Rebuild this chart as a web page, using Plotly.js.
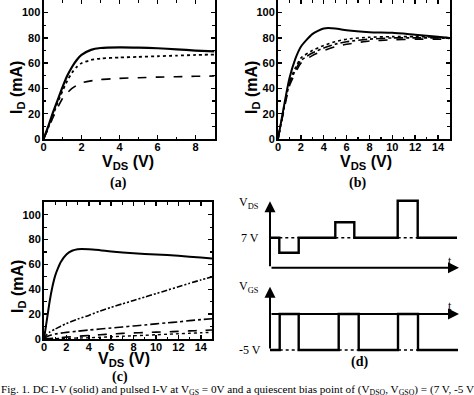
<!DOCTYPE html>
<html>
<head>
<meta charset="utf-8">
<script src="https://cdn.plot.ly/plotly-3.0.1.min.js"></script>
<style>html,body{margin:0;padding:0;overflow:hidden;background:#fff}#chart{width:474px;height:395px}</style>
</head>
<body>
<div id="chart"></div>
<script>
// ---------- Data: panel (a) ----------
const vA = [0,0.25,0.5,0.75,1,1.25,1.5,1.75,2,2.5,3,4,5,6,7,8,9];
const aDC = [0,10,21,31,41,50,57,62.5,66.5,70.5,72,72.5,72.3,71.8,71,70,69.3];
const aPulse1 = [0,9,19,29,38,46,52.5,57,60,62.5,63.7,64.5,65,65.5,66,66.5,66.8];
const aPulse2 = [0,8,17,25,32,36.5,40,42.5,44.5,46,47,48,48.5,49,49.3,49.6,49.8];
// ---------- Data: panel (b) ----------
const vB = [0,0.5,1,1.5,2,3,4,5,6,8,10,12,14,15];
const bDC = [0,25,48,63,73,83,87.5,87.5,86,84.5,84,82.5,81,80];
const bPulse1 = [0,24,45,56,64,70,74,77,79,80.5,81,81,80.5,80];
const bPulse2 = [0,23,44,54,62,68,72,75,77,79,80,80,80,79.5];
const bPulse3 = [0,22,42,52,60,66,70,73,75,77.5,78.5,79,79,79];
// ---------- Data: panel (c) ----------
const vC = [0,0.25,0.5,0.75,1,1.25,1.5,2,2.5,3,4,5,6,8,10,12,14,15];
const cDC = [0,15,30,42,51,57,62,68,71,72.3,72.3,71.5,70.5,69,68,67,65.5,64.8];
const vC2 = [0,0.2,0.5,1,1.5,2,3,4,5,6,7,8,9,10,11,12,13,14,15];
const cPulse1 = [0,3,5.5,8,10.3,12.5,16,19,22.5,25.5,28.3,31,33.8,36.5,39.3,42,44.8,47.5,50];
const cPulse2 = [0,1.5,2.8,4,4.7,5.3,6.3,7.2,8,8.8,9.7,10.5,11.3,12.2,13,13.8,14.8,15.6,16.3];
const cPulse3 = [0,0.2,0.4,0.8,1.2,1.5,2.2,2.8,3.4,4,4.5,4.9,5.2,5.5,5.8,6.1,6.5,6.9,7.3];
const cPulse4 = [0,0.1,0.2,0.3,0.4,0.5,0.8,1,1.4,1.8,2.2,2.6,3,3.4,3.8,4.2,4.6,5,5.4];
// ---------- Data: panel (d) pulse timing (arbitrary time units) ----------
const tDS = [0,9.3,9.3,28.7,28.7,65.3,65.3,84.3,84.3,127.7,127.7,147.7,147.7,187];
const vDS = [7,7,3.5,3.5,7,7,10.6,10.6,7,7,15.6,15.6,7,7];
const tDSq = [9.3,28.7,null,65.3,84.3,null,127.7,147.7];
const vDSq = [7,7,null,7,7,null,7,7];
const tGS = [0,9.7,9.7,28.7,28.7,68.7,68.7,88.7,88.7,128,128,148,148,188];
const vGS = [-5,-5,0,0,-5,-5,0,0,-5,-5,0,0,-5,-5];
const tGSq = [9.7,28.7,null,68.7,88.7,null,128,148];
const vGSq = [-5,-5,null,-5,-5,null,-5,-5];
const xTicksA = [0,2,4,6,8];
const xTicksBC = [0,2,4,6,8,10,12,14];
const yTicks = [0,20,40,60,80,100];

const W = 474, H = 395;
const px = p => p / W;
const py = p => 1 - p / H;

const SANS = 'Liberation Sans, Arial, sans-serif';
const SERIF = 'Liberation Serif, Times New Roman, serif';
const k = '#000';

function ln(x, y, xa, ya, dash, w) {
  return {x, y, xaxis: xa, yaxis: ya, mode: 'lines', type: 'scatter',
    line: {color: k, width: w || 1.6, dash: dash || 'solid', shape: 'spline', smoothing: 0.6},
    hoverinfo: 'skip', showlegend: false};
}
function step(x, y, xa, ya, dash, w) {
  return {x, y, xaxis: xa, yaxis: ya, mode: 'lines', type: 'scatter',
    line: {color: k, width: w || 2, dash: dash || 'solid'},
    hoverinfo: 'skip', showlegend: false, connectgaps: false};
}
const DDD = '6px,2px,2px,2px,2px,2px';

const traces = [
  ln(vA, aDC, 'x', 'y', 'solid', 2.2),
  ln(vA, aPulse1, 'x', 'y', 'dot', 1.8),
  ln(vA, aPulse2, 'x', 'y', 'dash', 1.6),
  ln(vB, bDC, 'x2', 'y2', 'solid', 2),
  ln(vB, bPulse1, 'x2', 'y2', 'dot', 1.6),
  ln(vB, bPulse2, 'x2', 'y2', 'dashdot', 1.6),
  ln(vB, bPulse3, 'x2', 'y2', 'dash', 1.6),
  ln(vC, cDC, 'x3', 'y3', 'solid', 2),
  ln(vC2, cPulse1, 'x3', 'y3', DDD, 1.6),
  ln(vC2, cPulse2, 'x3', 'y3', 'dashdot', 1.6),
  ln(vC2, cPulse3, 'x3', 'y3', 'dash', 1.6),
  ln(vC2, cPulse4, 'x3', 'y3', 'dot', 1.4),
  step(tDS, vDS, 'x4', 'y4', 'solid', 2.4),
  step(tDSq, vDSq, 'x4', 'y4', 'dot', 1.6),
  step(tGS, vGS, 'x5', 'y5', 'solid', 2.4),
  step(tGSq, vGSq, 'x5', 'y5', 'dot', 1.6)
];

function axis(dom, range, tickvals, minorDt, anchor, standoff) {
  return {domain: dom, range, anchor, tickmode: 'array', tickvals,
    showline: true, linecolor: k, linewidth: 2, mirror: 'ticks',
    ticks: 'inside', ticklen: 4, tickwidth: 1.5, tickcolor: k,
    ticklabelstandoff: standoff,
    minor: {dtick: minorDt, ticks: 'inside', ticklen: 2.5, tickwidth: 1.2, tickcolor: k, showgrid: false},
    showgrid: false, zeroline: false, fixedrange: true,
    tickfont: {family: SANS, size: 11, color: k, weight: 'bold'}};
}
const hidden = (dom, range, anchor) => ({domain: dom, range, anchor, visible: false, fixedrange: true});

const dA_x = [px(43.5), px(214.5)], dA_y = [py(139), 1];
const dB_x = [px(278), px(449.5)];
const dC_x = [px(44), px(212)], dC_y = [py(339), py(202.3)];
const dD_x = [px(270), px(460)];
const dD1_y = [py(267.7), py(199.1)];
const dD2_y = [py(353.6), py(285.2)];

const ann = [];
function txt(text, x, y, opt) {
  ann.push(Object.assign({text, x: px(x), y: py(y), xref: 'paper', yref: 'paper',
    showarrow: false, xanchor: 'center', yanchor: 'middle',
    font: {family: SANS, size: 16, color: k}}, opt || {}));
}
// axis titles
txt('<b>V<sub>DS</sub> (V)</b>', 128, 162);
txt('<b>V<sub>DS</sub> (V)</b>', 366, 162);
txt('<b>V<sub>DS</sub> (V)</b>', 124, 359);
txt('<b>I<sub>D</sub> (mA)</b>', 18, 88, {textangle: -90});
txt('<b>I<sub>D</sub> (mA)</b>', 252, 87, {textangle: -90});
txt('<b>I<sub>D</sub> (mA)</b>', 18, 287, {textangle: -90});
// panel labels
const pl = {font: {family: SERIF, size: 14, color: k}};
txt('<b>(a)</b>', 118, 183, pl);
txt('<b>(b)</b>', 357, 183, pl);
txt('<b>(c)</b>', 120, 377, pl);
txt('<b>(d)</b>', 359, 362, pl);
// panel (d) labels
const sl = {font: {family: SERIF, size: 12, color: k}};
txt('V<sub>DS</sub>', 249, 203, sl);
txt('7 V', 250, 238, sl);
txt('t', 450, 261, sl);
txt('V<sub>GS</sub>', 249, 287, sl);
txt('t', 450, 306, sl);
txt('-5 V', 250, 350, sl);
// caption
ann.push({text: 'Fig. 1. DC I-V (solid) and pulsed I-V at V<sub>GS</sub> = 0V and a quiescent bias point of (V<sub>DSQ</sub>, V<sub>GSQ</sub>) = (7 V, -5 V)',
  x: px(-1), y: py(390), xref: 'paper', yref: 'paper', showarrow: false,
  xanchor: 'left', yanchor: 'middle', font: {family: SERIF, size: 11.2, color: k}});
// axes arrows in (d)
function arrow(xa, ya, x0, y0, x1, y1) {
  ann.push({x: x1, y: y1, ax: x0, ay: y0, xref: xa, yref: ya, axref: xa, ayref: ya,
    showarrow: true, arrowhead: 2, arrowsize: 1.1, arrowwidth: 2, arrowcolor: k, text: ''});
}
arrow('x4', 'y4', 0, 0, 0, 15.5);
arrow('x4', 'y4', 0, 0, 189, 0);
arrow('x5', 'y5', 0, -5, 0, 3.8);
arrow('x5', 'y5', 0, 0, 189, 0);

const layout = {
  width: W, height: H, margin: {l: 0, r: 0, t: 0, b: 0},
  paper_bgcolor: '#fff', plot_bgcolor: 'rgba(0,0,0,0)', showlegend: false,
  xaxis: axis(dA_x, [0, 9], xTicksA, 1, 'y', -3),
  yaxis: axis(dA_y, [0, 110], yTicks, 10, 'x', -1),
  xaxis2: axis(dB_x, [0, 15], xTicksBC, 1, 'y2', -3),
  yaxis2: axis(dA_y, [0, 110], yTicks, 10, 'x2', -1),
  xaxis3: axis(dC_x, [0, 15], xTicksBC, 1, 'y3', -3),
  yaxis3: axis(dC_y, [0, 110], yTicks, 10, 'x3', -1),
  xaxis4: hidden(dD_x, [0, 190], 'y4'),
  yaxis4: hidden(dD1_y, [0, 16], 'x4'),
  xaxis5: hidden(dD_x, [0, 190], 'y5'),
  yaxis5: hidden(dD2_y, [-5.5, 4], 'x5'),
  annotations: ann
};
Plotly.newPlot('chart', traces, layout, {staticPlot: true, displayModeBar: false});
</script>
</body>
</html>
